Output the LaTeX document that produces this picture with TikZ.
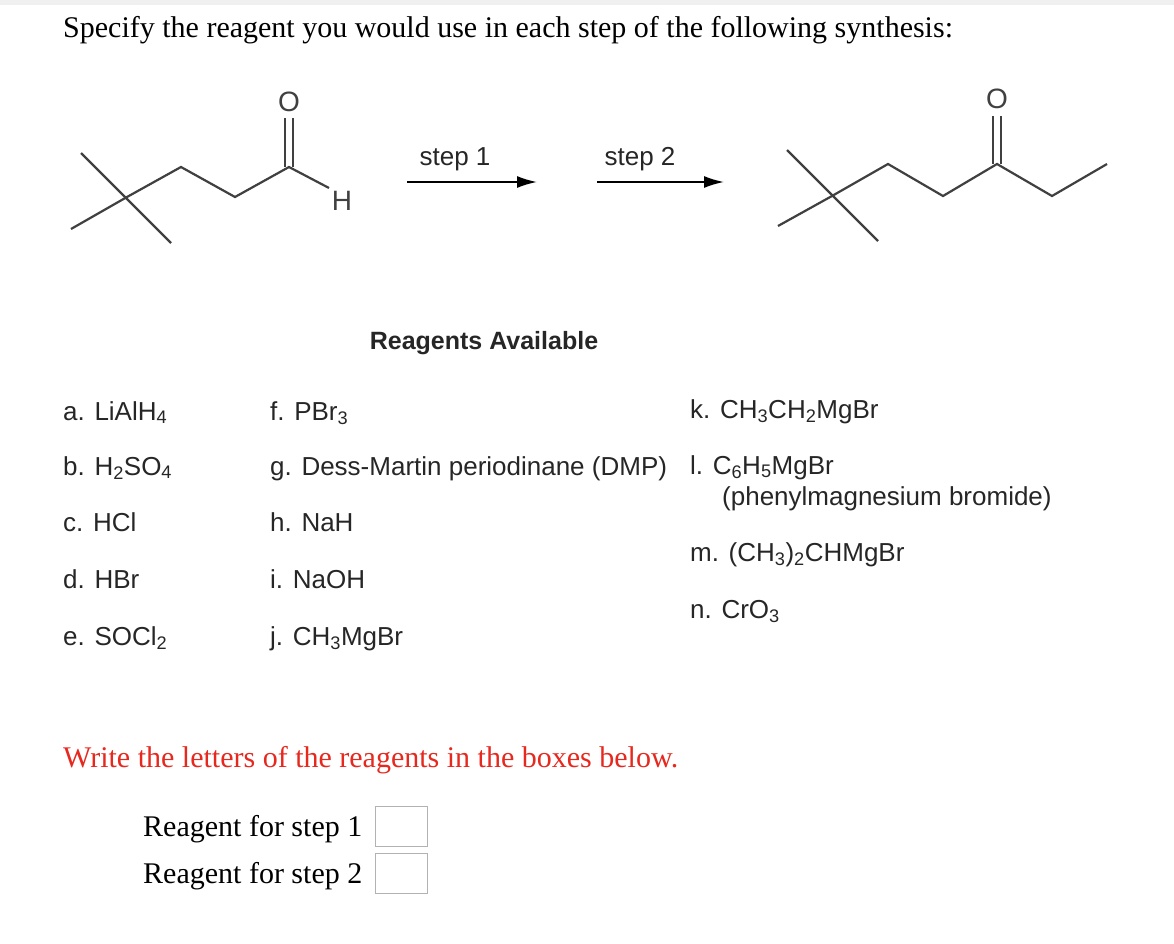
\documentclass[tikz,border=0pt]{standalone}
\usepackage{fontspec}
\setmainfont{Liberation Serif}
\newfontfamily\hv{Liberation Sans}
\usetikzlibrary{arrows.meta}
\definecolor{redq}{RGB}{230,40,30}
\begin{document}
\begin{tikzpicture}[x=1pt,y=-1pt,
  bond/.style={line width=2.2pt,color=black!75},
  lab/.style={anchor=base west,inner sep=0pt,font=\hv\fontsize{26}{30}\selectfont,color=black!85},
  atom/.style={inner sep=0pt,font=\hv\fontsize{28}{30}\selectfont,color=black!75},
  arr/.style={line width=1.8pt,-{Latex[length=20pt,width=12pt]}}]
\useasboundingbox (0,0) rectangle (1174,944);
\fill[black!6] (0,0) rectangle (1174,5);
\node[anchor=base west,inner sep=0pt,font=\fontsize{30}{33}\selectfont] (title) at (63,38) {Specify the reagent you would use in each step of the following synthesis:};
% left molecule
\draw[bond] (81,153) -- (171,243);
\draw[bond] (71,229) -- (127,197) -- (181,167) -- (235,197) -- (289,167) -- (329,188);
\draw[bond] (285,167) -- (285,118) (293,167) -- (293,118);
\node[atom] (o1) at (289,102) {O};
\node[atom] (h1) at (342,201) {H};
% right molecule
\draw[bond] (787,150) -- (878,241);
\draw[bond] (778,226) -- (832,196) -- (888,164) -- (943,196) -- (997,164) -- (1052,196) -- (1107,164);
\draw[bond] (993,164) -- (993,116) (1001,164) -- (1001,116);
\node[atom] (o2) at (997,99) {O};
% arrows
\coordinate (a1s) at (407,182); \coordinate (a1e) at (537,182);
\coordinate (a2s) at (597,182); \coordinate (a2e) at (724,182);
\draw[arr] (a1s) -- (a1e);
\draw[arr] (a2s) -- (a2e);
\node[lab,anchor=base] (s1) at (455,166) {step 1};
\node[lab,anchor=base] (s2) at (640,166) {step 2};
\node[lab,anchor=base,font=\hv\bfseries\fontsize{25}{30}\selectfont] (ra) at (484,349) {Reagents Available};
% column 1
\node[lab] (a) at (63,420) {a. LiAlH\textsubscript{4}};
\node[lab] (b) at (63,475) {b. H\textsubscript{2}SO\textsubscript{4}};
\node[lab] (c) at (63,531) {c. HCl};
\node[lab] (d) at (63,588) {d. HBr};
\node[lab] (e) at (63,645) {e. SOCl\textsubscript{2}};
% column 2
\node[lab] (f) at (270,420) {f. PBr\textsubscript{3}};
\node[lab] (g) at (270,475) {g. Dess-Martin periodinane (DMP)};
\node[lab] (h) at (270,531) {h. NaH};
\node[lab] (i) at (270,588) {i. NaOH};
\node[lab] (j) at (270,645) {j. CH\textsubscript{3}MgBr};
% column 3
\node[lab] (k) at (690,418) {k. CH\textsubscript{3}CH\textsubscript{2}MgBr};
\node[lab] (l) at (690,474) {l. C\textsubscript{6}H\textsubscript{5}MgBr};
\node[lab] (l2) at (722,505) {(phenylmagnesium bromide)};
\node[lab] (m) at (690,561) {m. (CH\textsubscript{3})\textsubscript{2}CHMgBr};
\node[lab] (n) at (690,618) {n. CrO\textsubscript{3}};
% answer part
\node[anchor=base west,inner sep=0pt,font=\fontsize{30}{33}\selectfont,color=redq] (w) at (63,767) {Write the letters of the reagents in the boxes below.};
\node[anchor=base west,inner sep=0pt,font=\fontsize{30}{33}\selectfont] (r1) at (143,836) {Reagent for step 1};
\node[anchor=base west,inner sep=0pt,font=\fontsize{30}{33}\selectfont] (r2) at (143,883) {Reagent for step 2};
\draw[black!30,line width=1pt] (375,806) rectangle (427,846);
\draw[black!30,line width=1pt] (375,853) rectangle (427,893);
\end{tikzpicture}
\end{document}
